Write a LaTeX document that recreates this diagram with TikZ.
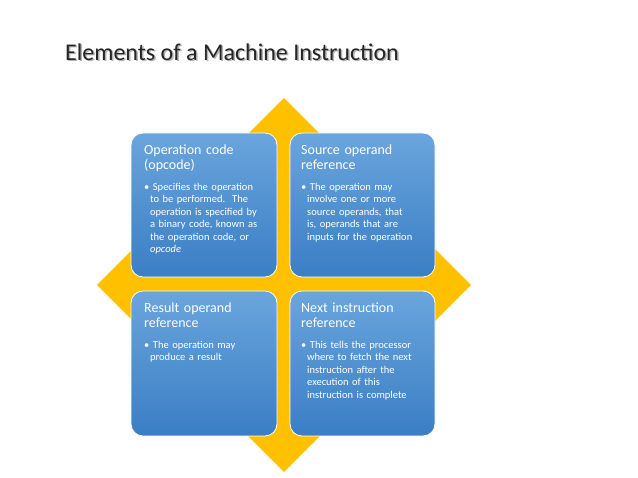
\documentclass[tikz,border=0pt]{standalone}
\usepackage{fontspec}
\setmainfont{Carlito}
\definecolor{gold}{HTML}{FFC000}
\definecolor{bluetop}{HTML}{6AA5DD}
\definecolor{bluebot}{HTML}{3A7EC4}
\tikzset{
  card/.style={rounded corners=12pt,top color=bluetop,bottom color=bluebot,draw=white,line width=0.8pt},
  head/.style={anchor=north west,text=white,font=\fontsize{14}{15}\selectfont,text width=130pt,inner sep=0pt,align=left},
  body/.style={anchor=north west,text=white,font=\fontsize{10.5}{12.4}\selectfont,text width=124pt,inner sep=0pt,align=left}
}
\begin{document}
\begin{tikzpicture}[x=1pt,y=-1pt]
\useasboundingbox[fill=white] (0,0) rectangle (638,478);
% title
\node[anchor=west,font=\fontsize{24}{26}\selectfont,text=gray!60,inner sep=0pt] at (66.5,53.5) {Elements of a Machine Instruction};
\node[anchor=west,font=\fontsize{24}{26}\selectfont,text=black!85,inner sep=0pt] (title) at (65,52) {Elements of a Machine Instruction};
% diamond
\fill[gold,draw=gold!60!white] (284,98) -- (471,285) -- (284,472) -- (97,285) -- cycle;
% cards
\draw[card] (131,133) rectangle (277,277);
\draw[card] (290,133) rectangle (435,277);
\draw[card] (131,291) rectangle (277,436);
\draw[card] (290,291) rectangle (435,436);
% texts
\node[head] (h1) at (144,145) {Operation code\\(opcode)};
\node[body] (b1) at (144,183) {\textbullet\ Specifies the operation\\\hspace*{6pt}to be performed.\ \ The\\\hspace*{6pt}operation is specified by\\\hspace*{6pt}a binary code, known as\\\hspace*{6pt}the operation code, or\\\hspace*{6pt}\textit{opcode}};
\node[head] (h2) at (301,145) {Source operand\\reference};
\node[body] (b2) at (301,183) {\textbullet\ The operation may\\\hspace*{6pt}involve one or more\\\hspace*{6pt}source operands, that\\\hspace*{6pt}is, operands that are\\\hspace*{6pt}inputs for the operation};
\node[head] (h3) at (144,303) {Result operand\\reference};
\node[body] (b3) at (144,341) {\textbullet\ The operation may\\\hspace*{6pt}produce a result};
\node[head] (h4) at (301,303) {Next instruction\\reference};
\node[body] (b4) at (301,341) {\textbullet\ This tells the processor\\\hspace*{6pt}where to fetch the next\\\hspace*{6pt}instruction after the\\\hspace*{6pt}execution of this\\\hspace*{6pt}instruction is complete};
\end{tikzpicture}
\end{document}
